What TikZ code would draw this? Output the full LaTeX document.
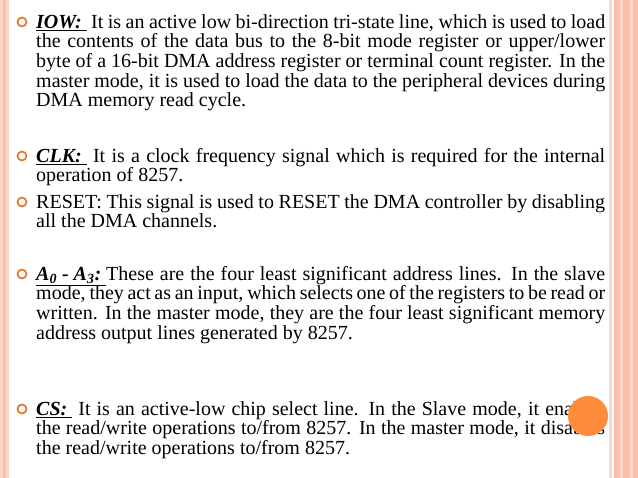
\documentclass[tikz,border=0pt]{standalone}
\usepackage{fontspec}
\setmainfont{Liberation Serif}
\definecolor{bul}{RGB}{232,118,40}
\definecolor{stripe}{RGB}{250,190,170}
\definecolor{stripeL}{RGB}{252,215,200}
\definecolor{dot}{RGB}{255,140,60}
\newcommand{\parafont}{\fontsize{20}{19.7}\selectfont\hyphenpenalty=10000 \exhyphenpenalty=10000 }
\tikzset{para/.style={anchor=north west,inner sep=0pt,text width=569pt,align=justify,font=\parafont},
 bullet/.style={circle,draw=bul,line width=1.7pt,minimum size=9pt,inner sep=0pt}}
\newcommand{\hd}[1]{\underline{\textbf{\textit{#1}}~}}
\begin{document}
\begin{tikzpicture}[x=1pt,y=-1pt]
\useasboundingbox (0,0) rectangle (638,478);
\fill[white] (0,0) rectangle (638,478);
\fill[stripeL] (0,0) rectangle (9,478);
\fill[stripe] (3,0) rectangle (6,478);
\fill[stripeL] (609,0) rectangle (612,478);
\fill[stripe] (614,0) rectangle (638,478);
\fill[stripeL] (620,0) rectangle (623,478);
\fill[stripeL] (630,0) rectangle (633,478);
\node[bullet] (b1) at (22,22) {};
\node[para] (p1) at (36,14) {\hd{IOW:} It is an active low bi-direction tri-state line, which is used to load the contents of the data bus to the 8-bit mode register or upper/lower byte of a 16-bit DMA address register or terminal count register. In the master mode, it is used to load the data to the peripheral devices during DMA memory read cycle.};
\node[bullet] (b2) at (22,156) {};
\node[para] (p2) at (36,148) {\hd{CLK:} It is a clock frequency signal which is required for the internal operation of 8257.};
\node[bullet] (b3) at (22,202) {};
\node[para] (p3) at (36,194) {RESET: This signal is used to RESET the DMA controller by disabling all the DMA channels.};
\node[bullet] (b4) at (22,274) {};
\node[para] (p4) at (36,266) {\underline{\textbf{\textit{A\textsubscript{0} - A\textsubscript{3}:}}~}These are the four least significant address lines. In the slave mode, they act as an input, which selects one of the registers to be read or written. In the master mode, they are the four least significant memory address output lines generated by 8257.};
\node[bullet] (b5) at (22,409) {};
\node[para] (p5) at (36,401) {\hd{CS:} It is an active-low chip select line. In the Slave mode, it enables the read/write operations to/from 8257. In the master mode, it disables the read/write operations to/from 8257.};
\fill[dot] (588,416) circle (20);
\end{tikzpicture}
\end{document}
